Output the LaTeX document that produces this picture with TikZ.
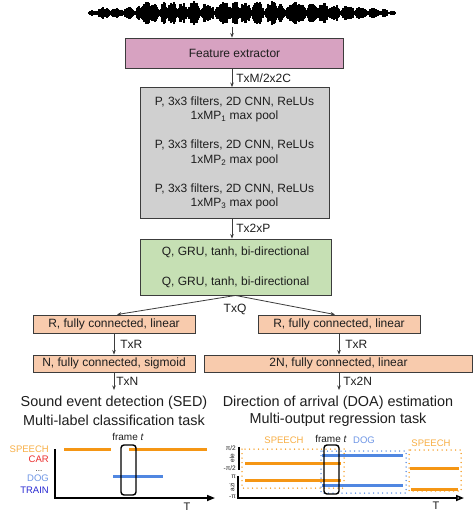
\documentclass[tikz,border=0pt]{standalone}
\usepackage{fontspec}
\setmainfont{Liberation Sans}
\usetikzlibrary{arrows.meta}
\definecolor{fepink}{RGB}{215,162,193}
\definecolor{cnngray}{RGB}{208,208,208}
\definecolor{grugreen}{RGB}{198,224,180}
\definecolor{fcorange}{RGB}{248,203,173}
\definecolor{edge}{RGB}{60,60,60}
\definecolor{txt}{RGB}{30,30,30}
\definecolor{spc}{RGB}{245,150,20}
\definecolor{spclab}{RGB}{248,175,70}
\definecolor{carred}{RGB}{235,45,45}
\definecolor{dogblue}{RGB}{80,135,225}
\definecolor{doglab}{RGB}{110,150,230}
\definecolor{trainblue}{RGB}{40,40,210}
\begin{document}
\begin{tikzpicture}[x=1pt,y=-1pt,
  box/.style={draw=edge, line width=0.9pt, inner sep=0pt, text=txt, font=\fontsize{12}{14.5}\selectfont, align=center},
  arr/.style={draw=edge, line width=0.8pt, -{Stealth[length=4.5pt,width=3.5pt]}},
  lab/.style={text=txt, font=\fontsize{12}{14}\selectfont, anchor=west, inner sep=0pt},
  title/.style={text=txt, font=\fontsize{14.4}{17}\selectfont, inner sep=0pt},
  wave/.style={line width=1.3pt, black},
  axisl/.style={line width=1.6pt, black},
  framebox/.style={draw=black, line width=1.4pt, rounded corners=3pt},
  evline/.style={line width=3pt},
  cls/.style={font=\fontsize{9.5}{11}\selectfont, anchor=east, inner sep=0pt},
  evlab/.style={font=\fontsize{9.5}{11}\selectfont, inner sep=0pt},
  small/.style={font=\fontsize{10}{12}\selectfont, inner sep=0pt, text=txt},
  tiny/.style={font=\fontsize{6.5}{8}\selectfont, inner sep=0pt, text=txt},
  dotbox/.style={line width=1.5pt, dash pattern=on 0pt off 4.5pt, line cap=round},
]
\fill[white] (0,0) rectangle (474,516);
\useasboundingbox (0,0) rectangle (474,516);

% ---------- waveform ----------
\pgfmathsetseed{12}
\draw[line width=1.4pt] (89,13) -- (395,13);
\foreach \a/\b/\h in {89/94/3, 96/110/6, 111/123/5.5, 124/134/6.5, 136/160/11.5, 161/167/12.5, 168/177/12, 178/187/11, 188/200/12, 201/214/11, 216/231/12, 232/238/14,
  239/251/11, 252/264/12, 266/277/13, 278/284/10, 286/307/11, 308/317/12.5, 318/328/11, 329/340/9, 341/354/8, 355/367/6.5, 368/380/5, 381/388/4, 389/395/2.5} {
  \pgfmathsetmacro{\n}{\b-\a}
  \foreach \x in {\a,...,\b} {
    \pgfmathsetmacro{\amp}{\h*(0.55+0.45*rnd)*sqrt(sin(180*(\x-\a+0.5)/(\n+1)))}
    \draw[wave] (\x,13-\amp) -- (\x,13+\amp);
  }
}

% ---------- blocks ----------
\node[box, fill=fepink, minimum width=218pt, minimum height=30pt] (fe) at (234.5,53) {Feature extractor};
\node[box, fill=cnngray, minimum width=189pt, minimum height=131pt] (cnn) at (234.5,153)
  {P, 3x3 filters, 2D CNN, ReLUs\\1xMP\textsubscript{1} max pool\\[14.5pt]P, 3x3 filters, 2D CNN, ReLUs\\1xMP\textsubscript{2} max pool\\[14.5pt]P, 3x3 filters, 2D CNN, ReLUs\\1xMP\textsubscript{3} max pool};
\node[box, fill=grugreen, minimum width=191pt, minimum height=56pt] (gru) at (235.5,267)
  {Q, GRU, tanh, bi-directional\\[15.5pt]Q, GRU, tanh, bi-directional};
\node[box, fill=fcorange, minimum width=162pt, minimum height=18pt] (lr) at (114,324) {R, fully connected, linear};
\node[box, fill=fcorange, minimum width=162pt, minimum height=18pt] (rr) at (339,324) {R, fully connected, linear};
\node[box, fill=fcorange, minimum width=162pt, minimum height=17pt] (ln) at (114,363.5) {N, fully connected, sigmoid};
\node[box, fill=fcorange, minimum width=268pt, minimum height=17pt] (rn) at (338.5,363.5) {2N, fully connected, linear};

% ---------- connectors ----------
\coordinate (w0) at (232,27);
\draw[arr] (w0) -- (w0 |- fe.north);
\draw[arr] (fe.south -| w0) -- (cnn.north -| w0) node[lab, midway, xshift=4pt] {TxM/2x2C};
\draw[arr] (cnn.south -| w0) -- (gru.north -| w0) node[lab, midway, xshift=4pt] {Tx2xP};
\draw[arr] (gru.south) -- ([xshift=3pt]lr.north);
\draw[arr] (gru.south) -- ([xshift=-4pt]rr.north);
\node[lab, anchor=center] (txq) at (235,309) {TxQ};
\draw[arr] (lr.south) -- (lr.south |- ln.north) node[lab, midway, xshift=6pt] {TxR};
\draw[arr] (rr.south) -- (rr.south |- rn.north) node[lab, midway, xshift=6pt] {TxR};
\coordinate (sedin) at (114,390);
\coordinate (doain) at (339,390);
\draw[arr] (ln.south) -- (sedin) node[lab, midway, xshift=2pt] {TxN};
\draw[arr] (rn.south -| doain) -- (doain) node[lab, midway, xshift=4pt] {Tx2N};

% ---------- titles ----------
\node[title] (sedt1) at (114,403) {Sound event detection (SED)};
\node[title] (sedt2) at (114,420) {Multi-label classification task};
\node[title] (doat1) at (338,403) {Direction of arrival (DOA) estimation};
\node[title] (doat2) at (338,420) {Multi-output regression task};

% ---------- SED plot ----------
\draw[axisl, -{Triangle[length=8pt,width=6pt]}] (55,449) -- (55,498) -- (215,498);
\node[cls, text=spclab] at (49,449) {SPEECH};
\node[cls, text=carred] at (49,459.5) {CAR};
\node[font=\fontsize{8}{9}\selectfont, inner sep=0pt, text=txt, anchor=base] at (39,471) {...};
\node[cls, text=doglab] at (49,478) {DOG};
\node[cls, text=trainblue] at (49,490) {TRAIN};
\draw[evline, spc] (64,449) -- (111,449);
\draw[evline, spc] (129,449) -- (207,449);
\draw[evline, dogblue] (113,476) -- (163,476);
\draw[framebox] (121,445) rectangle (136,495);
\node[small] at (128,437) {frame \textit{t}};
\node[small, font=\fontsize{11}{13}\selectfont] at (187,507) {T};

% ---------- DOA plot ----------
\draw[axisl] (239,447) -- (239,470);
\draw[axisl, -{Triangle[open,length=8pt,width=6pt]}] (238,476) -- (238,498) -- (464,498);
\node[tiny, anchor=east] at (236,448) {π/2};
\node[tiny, rotate=90] at (232,458) {ele};
\node[tiny, anchor=east] at (236,468) {-π/2};
\node[tiny, anchor=east] at (236,477) {π};
\node[tiny, rotate=90] at (232,487) {azi};
\node[tiny, anchor=east] at (236,497) {-π};
\draw[dotbox, spc] (242,449) rectangle (344,488);
\draw[dotbox, dogblue] (321,451) rectangle (406,493);
\draw[dotbox, spc] (409,450) rectangle (461,491);
\draw[evline, spc] (245,463) -- (341,463);
\draw[evline, spc] (245,480) -- (341,480);
\draw[evline, dogblue] (322,455) -- (403,455);
\draw[evline, dogblue] (322,485) -- (403,485);
\draw[evline, spc] (410,468) -- (459,468);
\draw[evline, spc] (411,489) -- (458,489);
\draw[framebox] (324,445) rectangle (339,494);
\node[small] at (331,439) {frame \textit{t}};
\node[evlab, text=spclab] at (284,440) {SPEECH};
\node[evlab, text=doglab] at (364,440) {DOG};
\node[evlab, text=spclab] at (431,443) {SPEECH};
\node[small, font=\fontsize{11}{13}\selectfont] at (436,506) {T};
\end{tikzpicture}
\end{document}
